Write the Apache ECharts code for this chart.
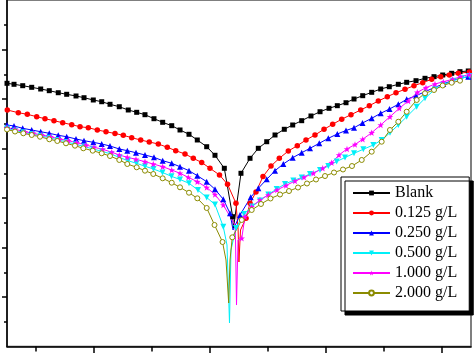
<!DOCTYPE html>
<html><head><meta charset="utf-8">
<script src="https://cdn.jsdelivr.net/npm/echarts@6/dist/echarts.min.js"></script>
<style>html,body{margin:0;padding:0;background:#fff}#c{width:474px;height:353px}</style>
</head><body><div id="c"></div>
<script>
// x: potential E (V), y: log i
const legendNames = ['Blank', '0.125 g/L', '0.250 g/L', '0.500 g/L', '1.000 g/L', '2.000 g/L'];
const xMajorTicks = [-0.8, -0.6, -0.4, -0.2];
const xMinorTicks = [-0.9, -0.7, -0.5, -0.3];
const yMajorTicks = [-8, -7, -6, -5, -4, -3];
const yMinorTicks = [-8.5, -7.5, -6.5, -5.5, -4.5, -3.5, -2.5];

const blankLeft = [[-0.95,-3.683],[-0.9379,-3.703],[-0.9229,-3.731],[-0.9074,-3.764],[-0.8919,-3.798],[-0.8771,-3.832],[-0.8616,-3.873],[-0.8471,-3.905],[-0.8310,-3.939],[-0.8172,-3.974],[-0.8012,-4.020],[-0.7867,-4.055],[-0.7724,-4.107],[-0.7564,-4.156],[-0.7409,-4.222],[-0.7264,-4.269],[-0.7121,-4.317],[-0.6966,-4.398],[-0.6816,-4.471],[-0.6660,-4.539],[-0.6517,-4.626],[-0.6362,-4.713],[-0.6219,-4.828],[-0.6057,-4.964],[-0.5914,-5.137],[-0.5753,-5.400],[-0.5609,-6.378]];
const blankDip = [[-0.5595,-6.606]];
const blankRight = [[-0.5466,-5.501],[-0.5310,-5.198],[-0.5167,-4.996],[-0.5022,-4.863],[-0.4879,-4.727],[-0.4719,-4.612],[-0.4574,-4.525],[-0.4419,-4.438],[-0.4259,-4.343],[-0.4103,-4.257],[-0.3948,-4.188],[-0.3805,-4.135],[-0.3655,-4.075],[-0.3517,-4.000],[-0.3367,-3.933],[-0.3212,-3.865],[-0.3057,-3.798],[-0.2909,-3.752],[-0.2753,-3.703],[-0.2609,-3.663],[-0.2448,-3.630],[-0.2293,-3.582],[-0.2138,-3.549],[-0.1988,-3.515],[-0.1833,-3.481],[-0.1690,-3.448],[-0.1547,-3.434]];

const c125Left = [[-0.9495,-4.222],[-0.9305,-4.277],[-0.9150,-4.309],[-0.8988,-4.358],[-0.8845,-4.398],[-0.8690,-4.438],[-0.8540,-4.479],[-0.8384,-4.519],[-0.8241,-4.560],[-0.8098,-4.580],[-0.7943,-4.626],[-0.7793,-4.661],[-0.7638,-4.697],[-0.7495,-4.733],[-0.7350,-4.782],[-0.7195,-4.828],[-0.7047,-4.869],[-0.6891,-4.909],[-0.6736,-4.976],[-0.6591,-5.044],[-0.6431,-5.111],[-0.6288,-5.198],[-0.6143,-5.283],[-0.6000,-5.400],[-0.5836,-5.535],[-0.5698,-5.723],[-0.5552,-6.107]];
const c125Dip = [[-0.5515,-6.646],[-0.5501,-7.293],[-0.5474,-6.646]];
const c125Right = [[-0.5379,-6.410],[-0.5310,-6.107],[-0.5207,-5.879],[-0.5086,-5.566],[-0.4948,-5.354],[-0.4805,-5.198],[-0.4650,-5.051],[-0.4495,-4.943],[-0.4345,-4.828],[-0.4190,-4.727],[-0.4034,-4.612],[-0.3885,-4.511],[-0.3729,-4.408],[-0.3569,-4.317],[-0.3402,-4.222],[-0.3253,-4.135],[-0.3098,-4.040],[-0.2943,-3.954],[-0.2793,-3.873],[-0.2638,-3.804],[-0.2483,-3.731],[-0.2333,-3.671],[-0.2178,-3.602],[-0.2022,-3.549],[-0.1874,-3.515],[-0.1719,-3.481],[-0.1529,-3.455]];

const c250Left = [[-0.95,-4.525],[-0.9379,-4.545],[-0.9229,-4.592],[-0.9074,-4.626],[-0.8919,-4.661],[-0.8771,-4.693],[-0.8616,-4.733],[-0.8471,-4.762],[-0.8310,-4.808],[-0.8172,-4.842],[-0.8012,-4.875],[-0.7867,-4.909],[-0.7724,-4.949],[-0.7564,-5.010],[-0.7426,-5.044],[-0.7276,-5.085],[-0.7121,-5.131],[-0.6966,-5.178],[-0.6816,-5.246],[-0.6660,-5.299],[-0.6517,-5.368],[-0.6362,-5.448],[-0.6219,-5.549],[-0.6057,-5.671],[-0.5914,-5.824],[-0.5771,-6.026],[-0.5655,-6.309]];
const c250Dip = [[-0.5603,-6.646]];
const c250Right = [[-0.5483,-6.343],[-0.5298,-5.986],[-0.5167,-5.804],[-0.5022,-5.622],[-0.4879,-5.448],[-0.4736,-5.313],[-0.4574,-5.186],[-0.4419,-5.085],[-0.4276,-4.996],[-0.4116,-4.895],[-0.3960,-4.794],[-0.3805,-4.707],[-0.3655,-4.636],[-0.3517,-4.582],[-0.3371,-4.485],[-0.3212,-4.390],[-0.3057,-4.289],[-0.2905,-4.202],[-0.2753,-4.107],[-0.2609,-4.006],[-0.2448,-3.933],[-0.2293,-3.853],[-0.2138,-3.772],[-0.1978,-3.697],[-0.1833,-3.630],[-0.1690,-3.582],[-0.1547,-3.549]];

const c500Left = [[-0.95,-4.598],[-0.9362,-4.634],[-0.9216,-4.673],[-0.9069,-4.707],[-0.8922,-4.743],[-0.8767,-4.784],[-0.8621,-4.828],[-0.8466,-4.869],[-0.8319,-4.913],[-0.8164,-4.962],[-0.8017,-5.010],[-0.7862,-5.057],[-0.7707,-5.111],[-0.7560,-5.182],[-0.7414,-5.246],[-0.7267,-5.299],[-0.7121,-5.358],[-0.6974,-5.414],[-0.6819,-5.485],[-0.6664,-5.562],[-0.6517,-5.626],[-0.6362,-5.703],[-0.6207,-5.838],[-0.6057,-5.990],[-0.5914,-6.131],[-0.5771,-6.580]];
const c500Dip = [[-0.5707,-6.949],[-0.5664,-8.525],[-0.5638,-7.051]];
const c500Right = [[-0.5552,-6.606],[-0.5414,-6.323],[-0.5276,-6.172],[-0.5138,-6.051],[-0.4995,-5.929],[-0.4850,-5.818],[-0.4707,-5.717],[-0.4564,-5.646],[-0.4419,-5.586],[-0.4276,-5.515],[-0.4103,-5.434],[-0.3960,-5.354],[-0.3816,-5.263],[-0.3672,-5.182],[-0.3517,-5.097],[-0.3357,-5.016],[-0.3184,-4.929],[-0.3040,-4.828],[-0.2897,-4.681],[-0.2753,-4.525],[-0.2609,-4.358],[-0.2436,-4.156],[-0.2293,-3.986],[-0.2121,-3.804],[-0.1978,-3.717],[-0.1805,-3.630],[-0.1660,-3.582],[-0.1529,-3.535]];

const c1000Left = [[-0.95,-4.580],[-0.9362,-4.612],[-0.9190,-4.661],[-0.9047,-4.693],[-0.8902,-4.727],[-0.8747,-4.762],[-0.8598,-4.808],[-0.8443,-4.842],[-0.8298,-4.883],[-0.8138,-4.929],[-0.8000,-4.976],[-0.7850,-5.016],[-0.7695,-5.075],[-0.7564,-5.131],[-0.7426,-5.178],[-0.7276,-5.218],[-0.7121,-5.267],[-0.6978,-5.313],[-0.6816,-5.368],[-0.6660,-5.434],[-0.6517,-5.501],[-0.6374,-5.582],[-0.6219,-5.671],[-0.6057,-5.788],[-0.5914,-5.929],[-0.5771,-6.141]];
const c1000Dip = [[-0.5569,-6.545],[-0.5560,-6.848],[-0.5543,-8.162],[-0.5517,-6.848]];
const c1000Right = [[-0.5453,-6.814],[-0.5397,-6.378],[-0.5281,-6.176],[-0.5138,-6.040],[-0.4995,-5.939],[-0.4845,-5.838],[-0.4690,-5.747],[-0.4534,-5.657],[-0.4379,-5.582],[-0.4219,-5.501],[-0.4057,-5.400],[-0.3902,-5.287],[-0.3776,-5.131],[-0.3638,-5.010],[-0.3500,-4.919],[-0.3367,-4.814],[-0.3212,-4.681],[-0.3057,-4.525],[-0.2897,-4.358],[-0.2736,-4.188],[-0.2581,-4.040],[-0.2426,-3.865],[-0.2276,-3.772],[-0.2121,-3.697],[-0.1978,-3.651],[-0.1816,-3.602],[-0.1678,-3.549],[-0.1529,-3.505]];

const c2000Left = [[-0.95,-4.616],[-0.9362,-4.657],[-0.9219,-4.693],[-0.9074,-4.727],[-0.8931,-4.762],[-0.8771,-4.814],[-0.8633,-4.848],[-0.8483,-4.895],[-0.8328,-4.943],[-0.8184,-4.996],[-0.8022,-5.044],[-0.7867,-5.097],[-0.7724,-5.152],[-0.7564,-5.232],[-0.7426,-5.313],[-0.7264,-5.380],[-0.7121,-5.448],[-0.6978,-5.515],[-0.6816,-5.602],[-0.6660,-5.691],[-0.6517,-5.784],[-0.6362,-5.893],[-0.6219,-6.006],[-0.6057,-6.202],[-0.5922,-6.545],[-0.5784,-6.889]];
const c2000Dip = [[-0.5724,-7.253],[-0.5678,-8.121],[-0.5655,-7.253]];
const c2000Right = [[-0.5616,-6.794],[-0.5453,-6.444],[-0.5281,-6.242],[-0.5121,-6.121],[-0.4957,-6.010],[-0.4793,-5.929],[-0.4638,-5.859],[-0.4483,-5.788],[-0.4328,-5.707],[-0.4172,-5.626],[-0.4017,-5.556],[-0.3862,-5.485],[-0.3707,-5.424],[-0.3552,-5.354],[-0.3384,-5.232],[-0.3212,-5.065],[-0.3040,-4.863],[-0.2897,-4.626],[-0.2753,-4.459],[-0.2609,-4.257],[-0.2436,-4.020],[-0.2293,-3.885],[-0.2138,-3.818],[-0.1988,-3.727],[-0.1833,-3.671],[-0.1690,-3.630]];

function build(left, dip, right) {
  return left.concat(dip.map(p => ({ value: p, symbol: 'none' }))).concat(right);
}
const star = 'path://M0,-10 L2.4,-3.3 9.5,-3.1 3.9,1.3 5.9,8.1 0,4.1 -5.9,8.1 -3.9,1.3 -9.5,-3.1 -2.4,-3.3 Z';

const defs = [
  { name: legendNames[0], color: '#000000', symbol: 'rect', size: 5, data: build(blankLeft, blankDip, blankRight) },
  { name: legendNames[1], color: '#ff0000', symbol: 'circle', size: 5.5, data: build(c125Left, c125Dip, c125Right) },
  { name: legendNames[2], color: '#0000ff', symbol: 'triangle', size: 6, data: build(c250Left, c250Dip, c250Right) },
  { name: legendNames[3], color: '#00f0f8', symbol: 'triangle', rotate: 180, size: 6, data: build(c500Left, c500Dip, c500Right) },
  { name: legendNames[4], color: '#ff00ff', symbol: star, size: 6.5, data: build(c1000Left, c1000Dip, c1000Right) },
  { name: legendNames[5], color: '#8b8b00', symbol: 'circle', size: 5, hollow: true, data: build(c2000Left, c2000Dip, c2000Right) }
];

const series = defs.map(d => ({
  name: d.name,
  type: 'line',
  data: d.data,
  symbol: d.symbol,
  symbolSize: d.size,
  symbolRotate: d.rotate || 0,
  showAllSymbol: true,
  lineStyle: { color: d.color, width: 1 },
  itemStyle: d.hollow ? { color: '#ffffff', borderColor: d.color, borderWidth: 1 } : { color: d.color, borderWidth: 0 },
  emphasis: { disabled: true },
  animation: false
}));

const chart = echarts.init(document.getElementById('c'), null, { renderer: 'canvas' });
chart.setOption({
  backgroundColor: '#ffffff',
  animation: false,
  grid: { left: 7, right: 3, top: 0, bottom: 6.5, show: true, borderColor: '#555', borderWidth: 1.5, backgroundColor: 'transparent' },
  legend: {
    data: legendNames,
    orient: 'vertical',
    left: 341,
    top: 177,
    padding: [8, 12, 10, 11],
    itemWidth: 37,
    itemHeight: 6,
    itemGap: 4,
    backgroundColor: '#ffffff',
    borderColor: '#000000',
    borderWidth: 1,
    borderRadius: 0,
    shadowColor: '#000000',
    shadowBlur: 0,
    shadowOffsetX: 4,
    shadowOffsetY: 4,
    selectedMode: false,
    textStyle: { fontFamily: 'Liberation Serif', fontSize: 16, color: '#000', lineHeight: 16 }
  },
  xAxis: [
    { type: 'value', min: -0.95, max: -0.15, position: 'bottom',
      axisLine: { show: true, lineStyle: { color: '#000', width: 1.5 } },
      axisTick: { show: true, inside: false, length: 8, customValues: xMajorTicks, lineStyle: { color: '#000', width: 1.5 } },
      axisLabel: { show: false }, splitLine: { show: false } },
    { type: 'value', min: -0.95, max: -0.15, position: 'bottom', gridIndex: 0,
      axisLine: { show: false },
      axisTick: { show: true, inside: false, length: 5, customValues: xMinorTicks, lineStyle: { color: '#000', width: 1.5 } },
      axisLabel: { show: false }, splitLine: { show: false } }
  ],
  yAxis: [
    { type: 'value', min: -9, max: -2, position: 'left',
      axisLine: { show: true, lineStyle: { color: '#000', width: 1.5 } },
      axisTick: { show: true, inside: false, length: 5, customValues: yMajorTicks, lineStyle: { color: '#000', width: 1.5 } },
      axisLabel: { show: false }, splitLine: { show: false } },
    { type: 'value', min: -9, max: -2, position: 'left',
      axisLine: { show: false },
      axisTick: { show: true, inside: false, length: 3, customValues: yMinorTicks, lineStyle: { color: '#000', width: 1.5 } },
      axisLabel: { show: false }, splitLine: { show: false } }
  ],
  series: series
});
</script></body></html>
